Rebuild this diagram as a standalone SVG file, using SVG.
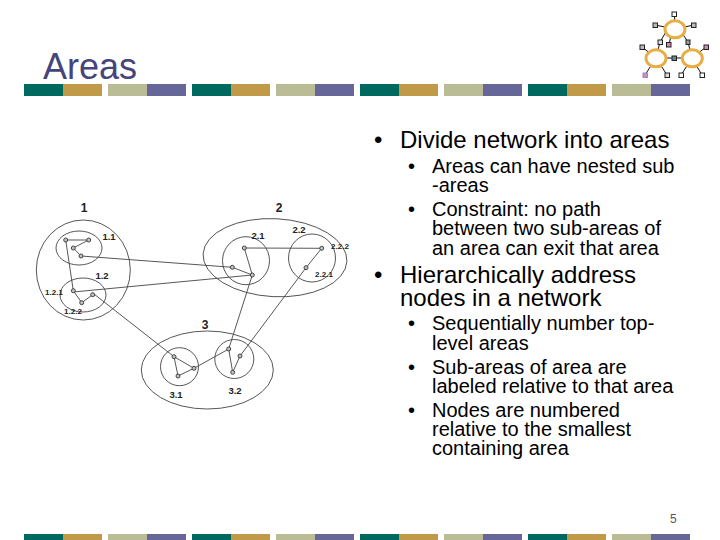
<svg xmlns="http://www.w3.org/2000/svg" width="720" height="540" viewBox="0 0 720 540">
<style>
text{font-family:"Liberation Sans",Arial,sans-serif;fill:#000}
.title{font-size:36px;fill:#45457a}
.l1{font-size:24px}
.l2{font-size:20px}
.lab{font-weight:bold;font-size:9.5px;text-anchor:middle;fill:#222}
.big{font-size:12px}
.sm{font-size:8px}
.a{fill:none;stroke:#444;stroke-width:.9}
.c line{stroke:#444;stroke-width:.9}
.n{fill:#b8c8c0;stroke:#333;stroke-width:.9}
.t{fill:#00695f}.g{fill:#c09a48}.s{fill:#b9bc94}.p{fill:#666699}
.oo{fill:#fff;stroke:#e8ad45;stroke-width:3}
.lk line{stroke:#111;stroke-width:1}
.q{stroke:#222;stroke-width:1;fill:#bbb}
</style>
<defs>
<g id="bar"><rect class="t" x="0" width="39" height="12"/><rect class="g" x="39" width="39" height="12"/><rect class="s" x="84" width="39" height="12"/><rect class="p" x="123" width="39" height="12"/></g>
<g id="bot"><rect class="t" x="0" width="39" height="6"/><rect class="g" x="39" width="39" height="6"/><rect class="s" x="84" width="39" height="6"/><rect class="p" x="123" width="39" height="6"/></g>
</defs>
<g id="top-bars"><use href="#bar" x="24" y="84"/><use href="#bar" x="192" y="84"/><use href="#bar" x="360" y="84"/><use href="#bar" x="528" y="84"/></g>
<g id="bottom-bars"><use href="#bot" x="24" y="534"/><use href="#bot" x="192" y="534"/><use href="#bot" x="360" y="534"/><use href="#bot" x="528" y="534"/></g>
<text class="title" x="43" y="79">Areas</text>
<g id="logo">
<g class="lk"><line x1="674.5" y1="14" x2="675" y2="29"/><line x1="655" y1="25" x2="675" y2="29"/><line x1="694" y1="25" x2="675" y2="29"/><line x1="660" y1="42" x2="667" y2="30"/><line x1="669" y1="45" x2="672" y2="30"/><line x1="688" y1="42" x2="680" y2="30"/><line x1="688" y1="42" x2="692" y2="58"/><line x1="642" y1="47" x2="656" y2="58"/><line x1="706" y1="47" x2="692" y2="58"/><line x1="656" y1="58" x2="692" y2="58"/><line x1="645" y1="75" x2="656" y2="58"/><line x1="667" y1="75" x2="656" y2="58"/><line x1="681" y1="75" x2="692" y2="58"/><line x1="702" y1="75" x2="692" y2="58"/><line x1="660" y1="42" x2="656" y2="58"/></g>
<ellipse class="oo" cx="675" cy="29.3" rx="10" ry="8.5"/><ellipse class="oo" cx="656" cy="58.3" rx="10" ry="8.5"/><ellipse class="oo" cx="692.3" cy="58.3" rx="10" ry="8.5"/>
<rect class="q" style="fill:#fff" x="672" y="12" width="4.5" height="4.5"/><rect class="q" x="653" y="23" width="4.5" height="4.5"/><rect class="q" x="691.5" y="23" width="4.5" height="4.5"/><rect class="q" style="fill:#ddd" x="658" y="40" width="4.5" height="4.5"/><rect class="q" style="fill:#d08ab0" x="666.5" y="42.5" width="4.5" height="4.5"/><rect class="q" style="fill:#999" x="686" y="40" width="4" height="4.5"/><rect class="q" x="640" y="45" width="4.5" height="4.5"/><rect class="q" style="fill:#d08ab0" x="704" y="45" width="4.5" height="4.5"/><rect class="q" style="fill:#668888" x="672" y="56" width="4.5" height="4.5"/><rect class="q" style="fill:#c090c8;stroke:#b080b8" x="643" y="73" width="4.5" height="4.5"/><rect class="q" style="fill:#ddd" x="665" y="73" width="4.5" height="4.5"/><rect class="q" style="fill:#fff" x="679" y="73" width="4.5" height="4.5"/><rect class="q" style="fill:#fff" x="700" y="73" width="4.5" height="4.5"/>
</g>
<g id="text-body">
<text class="l1" x="374" y="148">•</text><text class="l1" x="400" y="148">Divide network into areas</text>
<text class="l2" x="408" y="173">•</text><text class="l2" x="432" y="173">Areas can have nested sub<tspan x="432" y="192">-areas</tspan></text>
<text class="l2" x="408" y="216">•</text><text class="l2" x="432" y="216">Constraint: no path<tspan x="432" y="235">between two sub-areas of</tspan><tspan x="432" y="255">an area can exit that area</tspan></text>
<text class="l1" x="374" y="283">•</text><text class="l1" x="400" y="283">Hierarchically address<tspan x="400" y="306">nodes in a network</tspan></text>
<text class="l2" x="408" y="330">•</text><text class="l2" x="432" y="330">Sequentially number top-<tspan x="432" y="350">level areas</tspan></text>
<text class="l2" x="408" y="374">•</text><text class="l2" x="432" y="374">Sub-areas of area are<tspan x="432" y="393">labeled relative to that area</tspan></text>
<text class="l2" x="408" y="417">•</text><text class="l2" x="432" y="417">Nodes are numbered<tspan x="432" y="436">relative to the smallest</tspan><tspan x="432" y="455">containing area</tspan></text>
<text x="670" y="523" style="font-size:12px;fill:#555">5</text>
</g>
<g id="areas">
<ellipse class="a" cx="83.3" cy="270" rx="47" ry="50"/><ellipse class="a" cx="79" cy="248" rx="23" ry="17"/><ellipse class="a" cx="83" cy="295" rx="23" ry="17"/>
<ellipse class="a" cx="275" cy="257.7" rx="72" ry="39" transform="rotate(3 275 257.7)"/><ellipse class="a" cx="246" cy="260.7" rx="23.5" ry="24"/><ellipse class="a" cx="312" cy="258" rx="23.5" ry="24"/>
<ellipse class="a" cx="207.3" cy="370" rx="66" ry="39"/><ellipse class="a" cx="179.5" cy="366.7" rx="19" ry="19"/><ellipse class="a" cx="234.3" cy="359" rx="19.5" ry="19.5"/>
</g>
<g id="connectors" class="c">
<line x1="65.7" y1="240" x2="88.7" y2="240"/><line x1="88.7" y1="240" x2="73.3" y2="248"/><line x1="73.3" y1="248" x2="81" y2="256"/><line x1="65.7" y1="240" x2="73.3" y2="290.7"/><line x1="73.3" y1="290.7" x2="81.7" y2="302.7"/><line x1="81.7" y1="302.7" x2="92.7" y2="294.7"/>
<line x1="81" y1="256" x2="232.3" y2="267.3"/><line x1="73.3" y1="292" x2="252.3" y2="275"/><line x1="92.7" y1="293" x2="174" y2="356.7"/>
<line x1="244.3" y1="248" x2="321.7" y2="248.3"/><line x1="244.3" y1="248" x2="252.3" y2="275"/><line x1="232.3" y1="267.3" x2="252.3" y2="275"/><line x1="321.7" y1="248.3" x2="306" y2="267.7"/><line x1="306" y1="267.7" x2="240" y2="356"/><line x1="252.3" y1="275" x2="228.7" y2="349"/>
<line x1="174" y1="356.7" x2="178" y2="376"/><line x1="178" y1="376" x2="194" y2="368.3"/><line x1="174" y1="356.7" x2="194" y2="368.3"/><line x1="194" y1="368.3" x2="228.7" y2="349"/><line x1="228.7" y1="349" x2="232.7" y2="372.3"/><line x1="232.7" y1="372.3" x2="240" y2="356"/>
</g>
<g id="nodes">
<circle class="n" cx="65.7" cy="240" r="2"/><circle class="n" cx="88.7" cy="240" r="2"/><circle class="n" cx="73.3" cy="248" r="2"/><circle class="n" cx="81" cy="256" r="2"/><circle class="n" cx="73.3" cy="290.7" r="2"/><circle class="n" cx="81.7" cy="302.7" r="2"/><circle class="n" cx="92.7" cy="294.7" r="2"/>
<circle class="n" cx="244.3" cy="248" r="2"/><circle class="n" cx="232.3" cy="267.3" r="2"/><circle class="n" cx="252.3" cy="275" r="2"/><circle class="n" cx="321.7" cy="248.3" r="2"/><circle class="n" cx="306" cy="267.7" r="2"/>
<circle class="n" cx="174" cy="356.7" r="2"/><circle class="n" cx="178" cy="376" r="2"/><circle class="n" cx="194" cy="368.3" r="2"/><circle class="n" cx="228.7" cy="349" r="2"/><circle class="n" cx="240" cy="356" r="2"/><circle class="n" cx="232.7" cy="372.3" r="2"/>
</g>
<g id="labels">
<text class="lab big" x="84" y="212">1</text><text class="lab" x="109" y="240">1.1</text><text class="lab" x="102" y="279">1.2</text><text class="lab sm" x="54" y="295">1.2.1</text><text class="lab sm" x="73" y="314">1.2.2</text>
<text class="lab big" x="279" y="212">2</text><text class="lab" x="258" y="239">2.1</text><text class="lab" x="299" y="233">2.2</text><text class="lab sm" x="340" y="249">2.2.2</text><text class="lab sm" x="324" y="277">2.2.1</text>
<text class="lab big" x="205" y="329">3</text><text class="lab" x="176" y="398">3.1</text><text class="lab" x="235" y="394">3.2</text>
</g>
</svg>
